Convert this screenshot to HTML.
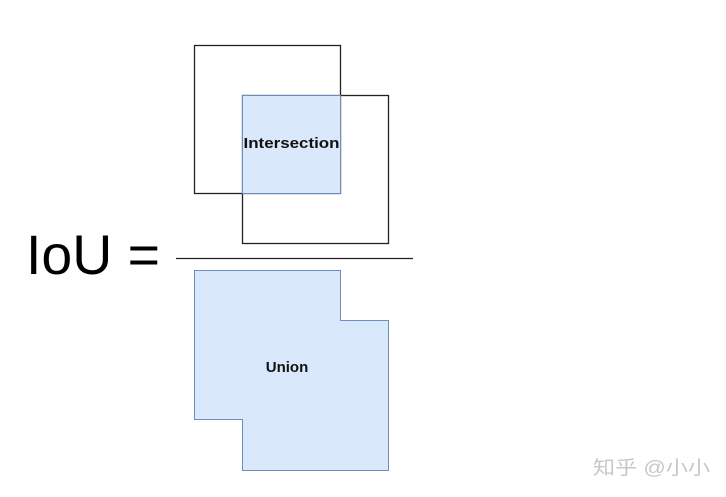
<!DOCTYPE html>
<html><head><meta charset="utf-8"><style>
html,body{margin:0;padding:0;background:#fff;width:726px;height:497px;overflow:hidden}
</style></head><body>
<svg width="726" height="497" xmlns="http://www.w3.org/2000/svg">
<rect x="194.5" y="45.5" width="146" height="148" fill="none" stroke="#222" stroke-width="1.3"/>
<rect x="242.5" y="95.5" width="146" height="148" fill="none" stroke="#222" stroke-width="1.3"/>
<rect x="242.5" y="95.5" width="98" height="98" fill="#dae8fc" stroke="#6c8ebf" stroke-width="1"/>
<text x="291.5" y="148" font-family="Liberation Sans, sans-serif" font-weight="bold" font-size="15" text-anchor="middle" fill="#111" textLength="96" lengthAdjust="spacingAndGlyphs">Intersection</text>
<line x1="176" y1="258.5" x2="413" y2="258.5" stroke="#222" stroke-width="1.3"/>
<polygon points="194.5,270.5 340.5,270.5 340.5,320.5 388.5,320.5 388.5,470.5 242.5,470.5 242.5,419.5 194.5,419.5" fill="#dae8fc" stroke="#6c8ebf" stroke-width="1"/>
<text x="287" y="372" font-family="Liberation Sans, sans-serif" font-weight="bold" font-size="15" text-anchor="middle" fill="#111">Union</text>
<text x="26" y="274" font-family="Liberation Sans, sans-serif" font-size="56" fill="#000" textLength="134" lengthAdjust="spacingAndGlyphs">IoU =</text>
<text x="593" y="474" font-family="Liberation Sans, 'Noto Sans CJK SC', sans-serif" font-size="19" fill="#c8c8c8" textLength="117" lengthAdjust="spacingAndGlyphs">知乎 @小小</text>
</svg>
</body></html>
